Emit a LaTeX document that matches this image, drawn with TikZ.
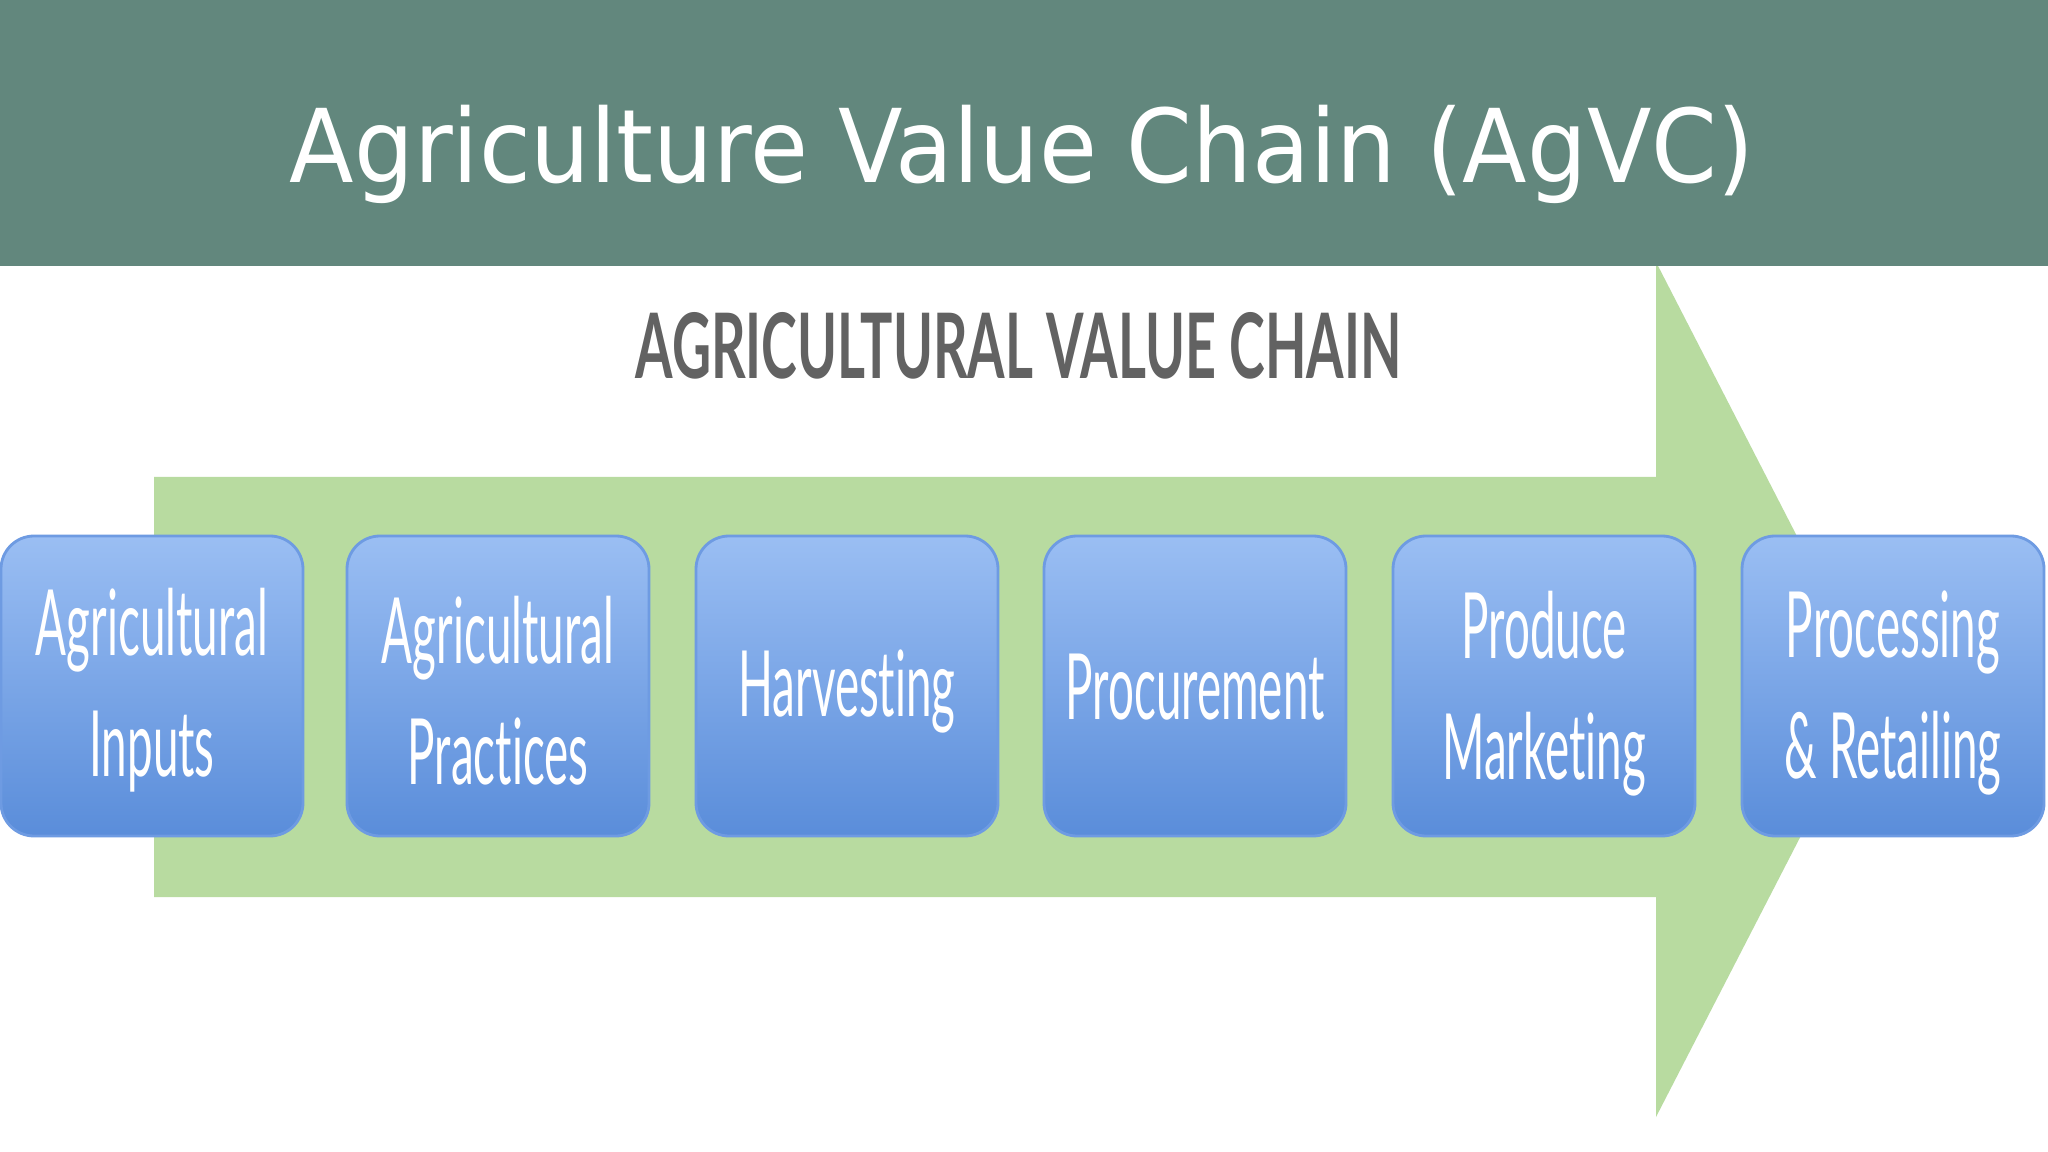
\documentclass[tikz,border=0pt]{standalone}
\usepackage{fontspec}
\setmainfont{DejaVu Sans}
\newfontfamily\boxfont[Ligatures=NoCommon]{Lato}
\newfontfamily\subfont{Lato}
\usepackage{graphicx}
\definecolor{headbg}{HTML}{62877D}
\definecolor{arrowgreen}{HTML}{B8DBA0}
\definecolor{boxtop}{HTML}{9ABEF3}
\definecolor{boxbot}{HTML}{5A8DDA}
\definecolor{boxedge}{HTML}{6E9BE2}
\definecolor{subgray}{HTML}{626262}
\newcommand{\bt}[1]{\scalebox{0.5}[1]{\fontsize{26}{34.5}\selectfont\begin{tabular}{@{}c@{}}#1\end{tabular}}}
\tikzset{
  stagebox/.style={rounded corners=0.33cm, top color=boxtop, bottom color=boxbot, draw=boxedge, line width=0.8pt,
     minimum width=302*0.01cm, minimum height=300*0.01cm, inner sep=0pt},
  stagetext/.style={text=white, font=\boxfont, inner sep=0pt, align=center}
}
\begin{document}
\begin{tikzpicture}[x=0.01cm, y=-0.01cm]
\useasboundingbox (0,0) rectangle (2048,1152);
\fill[white] (0,0) rectangle (2048,1152);
% green arrow
\fill[arrowgreen] (154,477) -- (1656,477) -- (1656,262) -- (1876,690) -- (1656,1117) -- (1656,897) -- (154,897) -- cycle;
% header band
\fill[headbg] (0,0) rectangle (2048,266);
\node[anchor=base, text=white, inner sep=0pt] (title) at (1022,183)
  {\scalebox{1}[1.08]{\fontsize{26.8}{30}\selectfont Agriculture Value Chain (AgVC)}};
\node[anchor=base west, text=subgray, inner sep=0pt] (sub) at (635,379)
  {\resizebox{7.65cm}{0.66cm}{\subfont\bfseries AGRICULTURAL VALUE CHAIN}};
% stages
\node[stagebox] (b1) at (152,686) {};
\node[stagebox] (b2) at (498,686) {};
\node[stagebox] (b3) at (847,686) {};
\node[stagebox] (b4) at (1195,686) {};
\node[stagebox] (b5) at (1544,686) {};
\node[stagebox] (b6) at (1893,686) {};
\node[stagetext] (t1) at ([yshift=-0.06cm]b1.center) {\bt{Agricultural\\Inputs}};
\node[stagetext] (t2) at ([yshift=-0.14cm]b2.center) {\bt{Agricultural\\Practices}};
\node[stagetext] (t3) at ([yshift=-0.06cm]b3.center) {\bt{Harvesting}};
\node[stagetext] (t4) at ([yshift=-0.09cm]b4.center) {\bt{Procurement}};
\node[stagetext] (t5) at ([yshift=-0.09cm]b5.center) {\bt{Produce\\Marketing}};
\node[stagetext] (t6) at ([yshift=-0.08cm]b6.center) {\bt{Processing\\\& Retailing}};
\end{tikzpicture}
\end{document}
